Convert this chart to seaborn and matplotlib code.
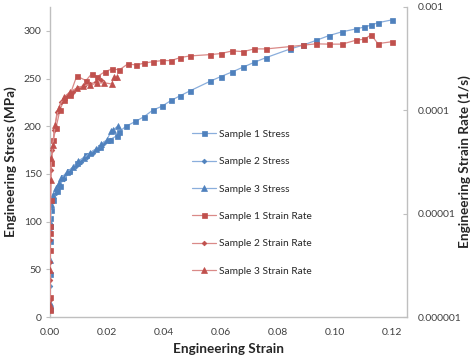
import matplotlib
matplotlib.use("Agg")
import matplotlib.pyplot as plt
import numpy as np
import pandas as pd
import seaborn as sns

# ---- data ----
s1_strain = [0, 0, 0, 0, 0, 0.0003, 0.0012, 0.0025, 0.0035, 0.0046, 0.0065, 0.0094,
             0.0128, 0.0175, 0.021, 0.0235, 0.0242, 0.0267, 0.030, 0.033, 0.036, 0.0393,
             0.0425, 0.0457, 0.0491, 0.0561, 0.0599, 0.064, 0.0678, 0.0717, 0.0759,
             0.0843, 0.0888, 0.0934, 0.0979, 0.1025, 0.1074, 0.1103, 0.1127, 0.1151, 0.1202]
s1_stress = [8, 45, 80, 95, 104, 112, 123, 132, 137, 147, 153, 161,
             170, 178.5, 186, 190, 194, 200, 205, 210, 216.7, 221,
             227, 232, 237, 247, 252, 257, 262, 267, 272,
             281, 285, 290, 295, 299, 302, 304, 306, 308.5, 311.6]

s2_strain = [0, 0, 0, 0, 0, 0.0005, 0.001, 0.002, 0.003, 0.005, 0.007, 0.009,
             0.011, 0.013, 0.015, 0.017, 0.019, 0.021]
s2_stress = [20, 32, 45, 70, 90, 115, 122, 130, 137, 145, 152, 158,
             163, 168, 172, 176, 182, 186]

s3_strain = [0, 0, 0, 0.0003, 0.001, 0.002, 0.003, 0.004, 0.006, 0.008, 0.010, 0.012,
             0.014, 0.016, 0.018, 0.020, 0.0215, 0.022, 0.0238]
s3_stress = [15, 60, 100, 118, 128, 135, 140, 146, 152, 157, 164, 167,
             172, 176, 181, 186, 195, 196, 200]

r1_strain = [0, 0, 0, 0, 0, 0.0002, 0.0004, 0.0011, 0.0021, 0.0035, 0.0049, 0.007,
             0.0094, 0.0126, 0.0146, 0.0166, 0.0193, 0.0219, 0.0243, 0.0273, 0.0302,
             0.0331, 0.0362, 0.0394, 0.0425, 0.0457, 0.0491, 0.0561, 0.0599, 0.064,
             0.0678, 0.0717, 0.0759, 0.0843, 0.0888, 0.0934, 0.0979, 0.1025, 0.1074,
             0.1103, 0.1127, 0.1151, 0.1202]
r1_rate = [1.17e-6, 1.56e-6, 4.45e-6, 6.5e-6, 7.6e-6, 1.36e-5, 3.1e-5, 5.17e-5,
           6.76e-5, 1.01e-4, 1.26e-4, 1.41e-4,
           2.15e-4, 1.94e-4, 2.25e-4, 2.12e-4, 2.37e-4, 2.52e-4, 2.46e-4, 2.81e-4,
           2.75e-4, 2.86e-4, 2.96e-4, 3.03e-4, 3.03e-4, 3.24e-4, 3.36e-4, 3.46e-4,
           3.54e-4, 3.76e-4, 3.70e-4, 3.93e-4, 3.93e-4, 4.14e-4, 4.27e-4, 4.40e-4,
           4.37e-4, 4.37e-4, 4.77e-4, 4.88e-4, 5.37e-4, 4.42e-4, 4.62e-4]

r2_strain = [0, 0, 0, 0, 0.0003, 0.0008, 0.0015, 0.0025, 0.004, 0.006, 0.008, 0.010,
             0.012, 0.014, 0.016, 0.018]
r2_rate = [1.46e-6, 2.28e-6, 3.41e-6, 5.56e-6, 2.65e-5, 4.14e-5, 6.46e-5, 9.66e-5,
           1.21e-4, 1.38e-4, 1.51e-4, 1.65e-4, 1.72e-4, 1.80e-4, 1.88e-4, 1.97e-4]

r3_strain = [0, 0, 0.0002, 0.0005, 0.001, 0.0018, 0.003, 0.005, 0.007, 0.0095, 0.0115,
             0.0141, 0.0165, 0.0189, 0.0216, 0.0224, 0.0236]
r3_rate = [1.31e-6, 2.85e-6, 2.12e-5, 3.46e-5, 4.62e-5, 7.22e-5, 1.06e-4, 1.35e-4,
           1.51e-4, 1.65e-4, 1.72e-4, 1.76e-4, 1.83e-4, 1.85e-4, 1.80e-4, 2.09e-4, 2.09e-4]

x_ticks = [0.00, 0.02, 0.04, 0.06, 0.08, 0.10, 0.12]
y_ticks = [0, 50, 100, 150, 200, 250, 300]
rate_ticks = [1e-6, 1e-5, 1e-4, 1e-3]
rate_labels = ["0.000001", "0.00001", "0.0001", "0.001"]

blue, blue_line = "#4F81BD", "#8AAEDC"
red, red_line = "#C0504D", "#DA8A88"
grey = "#BFBFBF"

sns.set_style("white")
plt.rcParams["font.family"] = ["Lato", "DejaVu Sans"]

fig = plt.figure(figsize=(4.74, 3.6), dpi=100)
ax = fig.add_axes([0.1055, 0.1194, 0.7532, 0.8612])
ax2 = ax.twinx()


def draw(axis, xs, ys, marker, ms, c, lc, label):
    sns.lineplot(x=np.array(xs), y=np.array(ys), ax=axis, sort=False, estimator=None,
                 color=lc, lw=0.9, marker=marker, markersize=ms,
                 markerfacecolor=c, markeredgecolor=c, markeredgewidth=0.5,
                 label=label, legend=False)


draw(ax, s1_strain, s1_stress, "s", 3.6, blue, blue_line, "Sample 1 Stress")
draw(ax, s2_strain, s2_stress, "D", 2.4, blue, blue_line, "Sample 2 Stress")
draw(ax, s3_strain, s3_stress, "^", 3.8, blue, blue_line, "Sample 3 Stress")
draw(ax2, r1_strain, r1_rate, "s", 3.6, red, red_line, "Sample 1 Strain Rate")
draw(ax2, r2_strain, r2_rate, "D", 2.4, red, red_line, "Sample 2 Strain Rate")
draw(ax2, r3_strain, r3_rate, "^", 3.8, red, red_line, "Sample 3 Strain Rate")

ax.set_xlim(0, 0.1253)
ax.set_ylim(0, 325)
ax.set_xticks(x_ticks)
ax.set_xticklabels([f"{v:.2f}" for v in x_ticks])
ax.set_yticks(y_ticks)
ax2.set_yscale("log")
ax2.set_ylim(1e-6, 1e-3)
ax2.set_yticks(rate_ticks)
ax2.set_yticklabels(rate_labels)
ax2.minorticks_off()

tick_c = "#404040"
ax.tick_params(axis="x", direction="in", length=3, color=grey, labelsize=7.5,
               labelcolor=tick_c, pad=8)
ax.tick_params(axis="y", direction="out", length=3, color=grey, labelsize=7.5,
               labelcolor=tick_c, pad=3, left=True)
ax2.tick_params(axis="y", direction="in", length=3, color=grey, labelsize=7.5,
                labelcolor=tick_c, pad=8, right=True)

for a in (ax, ax2):
    a.spines["top"].set_visible(False)
    for s in ("left", "bottom", "right"):
        a.spines[s].set_color(grey)
        a.spines[s].set_linewidth(1.0)
ax.spines["right"].set_visible(False)
ax2.spines["left"].set_visible(False)
ax2.spines["bottom"].set_visible(False)

ax.set_xlabel("Engineering Strain", fontsize=9.7, fontweight="bold", labelpad=4)
ax.set_ylabel("Engineering Stress (MPa)", fontsize=9.7, fontweight="bold", labelpad=5)
ax2.set_ylabel("Engineering Strain Rate (1/s)", fontsize=9.7, fontweight="bold")
ax2.yaxis.set_label_coords(1.143, 0.5)

h1, l1 = ax.get_legend_handles_labels()
h2, l2 = ax2.get_legend_handles_labels()
ax2.legend(h1 + h2, l1 + l2, loc="upper left", bbox_to_anchor=(0.387, 0.617),
           frameon=False, fontsize=7.3, handlelength=2.3, labelspacing=1.8,
           handletextpad=0.3, borderaxespad=0)

fig.savefig("out.png", dpi=100)
